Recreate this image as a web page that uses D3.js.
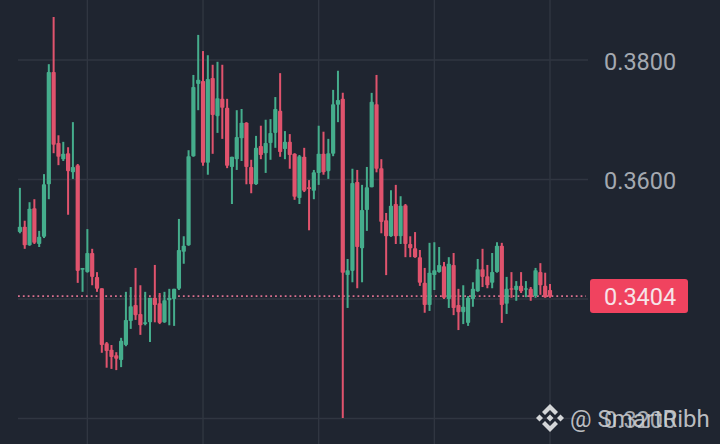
<!DOCTYPE html>
<html>
<head>
<meta charset="utf-8">
<script src="https://cdn.jsdelivr.net/npm/d3@7"></script>
<style>
    html, body { margin: 0; padding: 0; background: #1f2530; }
    svg { display: block; }
    text { font-family: Roboto, sans-serif; }
</style>
</head>
<body>
<div id="chart"></div>
<script>
// Candle values
const opens = [
    0.3512, 0.3521, 0.3490, 0.3552, 0.3492, 0.3504, 0.3592, 0.3780, 0.3661, 0.3634, 0.3644, 0.3612,
    0.3624, 0.3449, 0.3445, 0.3477, 0.3437, 0.3418, 0.3326, 0.3315, 0.3306, 0.3298, 0.3323, 0.3363,
    0.3390, 0.3375, 0.3358, 0.3361, 0.3402, 0.3393, 0.3361, 0.3398, 0.3400, 0.3417, 0.3479, 0.3490,
    0.3639, 0.3760, 0.3765, 0.3628, 0.3770, 0.3706, 0.3735, 0.3720, 0.3621, 0.3634, 0.3669, 0.3695,
    0.3621, 0.3592, 0.3656, 0.3644, 0.3661, 0.3678, 0.3715, 0.3651, 0.3663, 0.3643, 0.3569, 0.3638,
    0.3587, 0.3581, 0.3611, 0.3643, 0.3614, 0.3643, 0.3725, 0.3735, 0.3440, 0.3447, 0.3596, 0.3485,
    0.3549, 0.3587, 0.3726, 0.3619, 0.3532, 0.3505, 0.3559, 0.3505, 0.3557, 0.3492, 0.3485, 0.3470,
    0.3427, 0.3390, 0.3440, 0.3445, 0.3455, 0.3400, 0.3457, 0.3390, 0.3378, 0.3360, 0.3400, 0.3413,
    0.3450, 0.3438, 0.3427, 0.3445, 0.3489, 0.3392, 0.3418, 0.3415, 0.3422, 0.3417, 0.3417, 0.3405,
    0.3445, 0.3422, 0.3415
];
const closes = [
    0.3521, 0.3490, 0.3551, 0.3494, 0.3504, 0.3592, 0.3780, 0.3658, 0.3638, 0.3643, 0.3614, 0.3621,
    0.3447, 0.3452, 0.3477, 0.3437, 0.3417, 0.3323, 0.3313, 0.3303, 0.3300, 0.3330, 0.3365, 0.3388,
    0.3373, 0.3356, 0.3361, 0.3402, 0.3390, 0.3360, 0.3398, 0.3402, 0.3417, 0.3482, 0.3489, 0.3639,
    0.3755, 0.3767, 0.3628, 0.3768, 0.3708, 0.3736, 0.3720, 0.3623, 0.3638, 0.3671, 0.3695, 0.3621,
    0.3592, 0.3653, 0.3641, 0.3661, 0.3678, 0.3718, 0.3646, 0.3663, 0.3641, 0.3571, 0.3639, 0.3581,
    0.3584, 0.3612, 0.3643, 0.3612, 0.3644, 0.3726, 0.3733, 0.3444, 0.3448, 0.3594, 0.3487, 0.3549,
    0.3587, 0.3730, 0.3618, 0.3529, 0.3505, 0.3556, 0.3505, 0.3556, 0.3492, 0.3485, 0.3470, 0.3427,
    0.3390, 0.3444, 0.3448, 0.3457, 0.3402, 0.3459, 0.3385, 0.3378, 0.3387, 0.3402, 0.3417, 0.3450,
    0.3437, 0.3423, 0.3445, 0.3489, 0.3390, 0.3417, 0.3417, 0.3422, 0.3413, 0.3418, 0.3403, 0.3448,
    0.3423, 0.3403, 0.3404
];
const highs = [
    0.3586, 0.3531, 0.3562, 0.3567, 0.3514, 0.3609, 0.3793, 0.3872, 0.3674, 0.3663, 0.3654, 0.3696,
    0.3626, 0.3452, 0.3517, 0.3484, 0.3445, 0.3418, 0.3328, 0.3323, 0.3311, 0.3335, 0.3412, 0.3420,
    0.3452, 0.3423, 0.3412, 0.3402, 0.3457, 0.3410, 0.3412, 0.3417, 0.3417, 0.3534, 0.3505, 0.3649,
    0.3775, 0.3842, 0.3815, 0.3808, 0.3792, 0.3797, 0.3792, 0.3735, 0.3638, 0.3716, 0.3718, 0.3696,
    0.3633, 0.3673, 0.3690, 0.3700, 0.3701, 0.3738, 0.3778, 0.3681, 0.3676, 0.3644, 0.3641, 0.3653,
    0.3599, 0.3616, 0.3690, 0.3680, 0.3668, 0.3750, 0.3782, 0.3745, 0.3467, 0.3618, 0.3616, 0.3591,
    0.3621, 0.3745, 0.3775, 0.3634, 0.3544, 0.3582, 0.3591, 0.3572, 0.3559, 0.3505, 0.3512, 0.3482,
    0.3452, 0.3494, 0.3495, 0.3487, 0.3462, 0.3470, 0.3477, 0.3417, 0.3423, 0.3405, 0.3428, 0.3467,
    0.3484, 0.3457, 0.3477, 0.3495, 0.3494, 0.3437, 0.3445, 0.3430, 0.3445, 0.3430, 0.3420, 0.3452,
    0.3460, 0.3444, 0.3425
];
const lows = [
    0.3510, 0.3484, 0.3489, 0.3492, 0.3487, 0.3502, 0.3567, 0.3644, 0.3624, 0.3631, 0.3541, 0.3601,
    0.3427, 0.3412, 0.3444, 0.3423, 0.3412, 0.3310, 0.3285, 0.3283, 0.3281, 0.3286, 0.3321, 0.3350,
    0.3365, 0.3340, 0.3356, 0.3328, 0.3361, 0.3358, 0.3360, 0.3356, 0.3355, 0.3415, 0.3459, 0.3489,
    0.3638, 0.3716, 0.3623, 0.3608, 0.3643, 0.3678, 0.3668, 0.3619, 0.3559, 0.3616, 0.3631, 0.3592,
    0.3577, 0.3591, 0.3634, 0.3611, 0.3633, 0.3653, 0.3638, 0.3634, 0.3618, 0.3566, 0.3559, 0.3579,
    0.3515, 0.3567, 0.3591, 0.3608, 0.3601, 0.3639, 0.3696, 0.3201, 0.3385, 0.3428, 0.3418, 0.3428,
    0.3514, 0.3587, 0.3612, 0.3510, 0.3440, 0.3504, 0.3492, 0.3492, 0.3470, 0.3470, 0.3469, 0.3422,
    0.3377, 0.3380, 0.3415, 0.3444, 0.3400, 0.3385, 0.3373, 0.3348, 0.3358, 0.3355, 0.3387, 0.3412,
    0.3420, 0.3418, 0.3418, 0.3444, 0.3360, 0.3375, 0.3402, 0.3397, 0.3410, 0.3403, 0.3397, 0.3402,
    0.3407, 0.3402, 0.3402
];
const priceTicks = [0.38, 0.36, 0.34, 0.32];
const axisLabels = [0.38, 0.36, 0.32];
const gridCandles = [14, 38, 62, 86, 110];
const lastPrice = 0.3404;
const watermark = '@ SmartRibh';

const width = 720, height = 444;
const upColor = '#45ad8c', downColor = '#e0536d';

const svg = d3.select('#chart')
    .append('svg')
    .attr('width', width)
    .attr('height', height);

svg.append('rect')
    .attr('width', width)
    .attr('height', height)
    .attr('fill', '#1f2530');

const defs = svg.append('defs');
defs.append('filter').attr('id', 'soft')
    .append('feGaussianBlur').attr('stdDeviation', 0.4);

// Scales
const xScale = d3.scaleLinear().domain([0, 110]).range([19.9, 550]);
const yScale = d3.scaleLinear().domain([0.32, 0.38]).range([418.5, 60]);

// Grid
const grid = svg.append('g').attr('stroke', '#303641').attr('stroke-width', 1.4);
grid.selectAll('.h')
    .data(priceTicks)
    .join('line')
    .attr('x1', 18)
    .attr('x2', 588)
    .attr('y1', d => yScale(d))
    .attr('y2', d => yScale(d));
grid.selectAll('.v')
    .data(gridCandles)
    .join('line')
    .attr('x1', d => xScale(d))
    .attr('x2', d => xScale(d))
    .attr('y1', 0)
    .attr('y2', height);

// Price axis, labels only
const yAxis = d3.axisRight(yScale)
    .tickValues(axisLabels)
    .tickSize(0)
    .tickPadding(0)
    .tickFormat(d3.format('.4f'));
const axisG = svg.append('g')
    .attr('transform', 'translate(604,1.5)')
    .call(yAxis);
axisG.select('.domain').remove();
axisG.selectAll('text')
    .attr('fill', '#a4a9b0')
    .style('font-size', '23.5px')
    .style('font-family', 'Roboto, sans-serif');

// Last price line
svg.append('line')
    .attr('x1', 18)
    .attr('x2', 586)
    .attr('y1', yScale(lastPrice) - 0.5)
    .attr('y2', yScale(lastPrice) - 0.5)
    .attr('stroke', '#d9708e')
    .attr('stroke-width', 1.8)
    .attr('stroke-dasharray', '1.8 3.05');

// Candles
const candles = svg.append('g').attr('filter', 'url(#soft)');
const color = i => closes[i] >= opens[i] ? upColor : downColor;

candles.selectAll('.wick')
    .data(d3.range(opens.length))
    .join('line')
    .attr('class', 'wick')
    .attr('x1', i => xScale(i))
    .attr('x2', i => xScale(i))
    .attr('y1', i => yScale(highs[i]))
    .attr('y2', i => yScale(lows[i]))
    .attr('stroke', color)
    .attr('stroke-width', 2);

candles.selectAll('.body')
    .data(d3.range(opens.length))
    .join('rect')
    .attr('class', 'body')
    .attr('x', i => xScale(i) - 2.1)
    .attr('width', 4.2)
    .attr('y', i => yScale(Math.max(opens[i], closes[i])))
    .attr('height', i => Math.max(1.5, Math.abs(yScale(opens[i]) - yScale(closes[i]))))
    .attr('rx', 0.8)
    .attr('fill', color);

// Last price badge
svg.append('rect')
    .attr('x', 590)
    .attr('y', yScale(lastPrice) - 17.5)
    .attr('width', 98)
    .attr('height', 34)
    .attr('rx', 3)
    .attr('fill', '#f0435f');

svg.append('text')
    .attr('x', 604)
    .attr('y', yScale(lastPrice))
    .attr('dy', '0.36em')
    .attr('fill', '#f6e4e8')
    .style('font-size', '23.5px')
    .text(d3.format('.4f')(lastPrice));

// Binance mark and handle on top of the lower axis label
const logo = svg.append('g')
    .attr('transform', 'translate(550,418)')
    .attr('fill', '#d4d6d8');
logo.append('path').attr('d', 'M0,-14 L8,-6 L5,-3 L0,-8 L-5,-3 L-8,-6 Z');
logo.append('path').attr('d', 'M0,14 L8,6 L5,3 L0,8 L-5,3 L-8,6 Z');
logo.append('path').attr('d', 'M-14,0 L-10.5,-3.5 L-7,0 L-10.5,3.5 Z');
logo.append('path').attr('d', 'M14,0 L10.5,-3.5 L7,0 L10.5,3.5 Z');
logo.append('path').attr('d', 'M0,-3.5 L3.5,0 L0,3.5 L-3.5,0 Z');

svg.append('text')
    .attr('x', 570)
    .attr('y', yScale(0.32))
    .attr('dy', '0.36em')
    .attr('fill', '#cfd1d4')
    .attr('fill-opacity', 0.9)
    .style('font-size', '24px')
    .text(watermark);
</script>
</body>
</html>
